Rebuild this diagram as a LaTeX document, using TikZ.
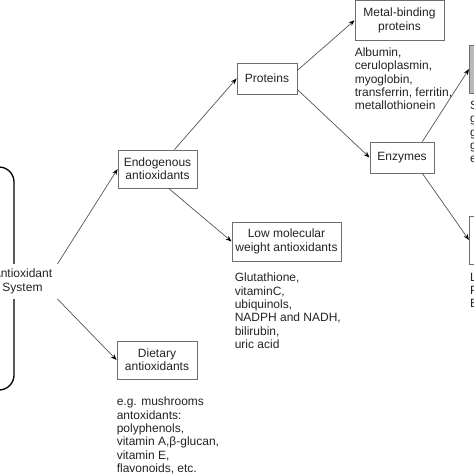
\documentclass[tikz,border=0pt]{standalone}
\usepackage{fontspec}
\setmainfont{Liberation Sans}
\usetikzlibrary{positioning,arrows.meta}
\definecolor{boxgray}{HTML}{6E6E6E}
\definecolor{txtgray}{HTML}{232323}
\definecolor{linegray}{HTML}{555555}
\tikzset{
     arrow/.style={draw=linegray, line width=0.7pt, -{Stealth[length=6pt,width=4.5pt,color=black]}},
     box/.style={draw=boxgray, line width=0.8pt, fill=white, align=center, inner sep=2pt},
     list/.style={align=left, inner sep=0pt, anchor=north west}
     }
\begin{document}
\begin{tikzpicture}[x=1pt, y=-1pt, every node/.style={font=\fontsize{12}{13.3}\selectfont, text=txtgray}]
                    \useasboundingbox (0,0) rectangle (474,474);
                    \clip (0,0) rectangle (474,474);
                    % Bracket round the system
                    \draw[line width=1.3pt, rounded corners=15pt] (-120,167) rectangle (14,390);
                    % Place nodes
                    \node [fill=white, align=center, inner sep=5pt] (sys) at (22.5,281.5) {Antioxidant\\System};
                    \node [box, minimum width=79pt, minimum height=38pt] (endo) at (157.5,169) {Endogenous\\antioxidants};
                    \node [box, minimum width=80pt, minimum height=38pt] (diet) at (157,360) {Dietary\\antioxidants};
                    \node [box, minimum width=60pt, minimum height=31pt] (prot) at (267,78.5) {Proteins};
                    \node [box, minimum width=109pt, minimum height=39pt] (lowmw) at (286.5,241.5) {Low molecular\\weight antioxidants};
                    \node [box, minimum width=89pt, minimum height=40pt] (metal) at (399.5,20.3) {Metal-binding\\proteins};
                    \node [box, minimum width=64pt, minimum height=31pt] (enz) at (402,157.5) {Enzymes};
                    \node [box, fill=gray!55, minimum width=60pt, minimum height=48pt, anchor=west] (enzA) at (469,69) {};
                    \node [box, minimum width=60pt, minimum height=48pt, anchor=west] (enzB) at (469,240) {};
                    % Lists under the boxes
                    \node [below=7pt of metal.south west, list] (metallist) {Albumin,\\ceruloplasmin,\\myoglobin,\\transferrin, ferritin,\\metallothionein};
                    \node [below right=11.5pt and 3pt of lowmw.south west, list] (lowlist) {Glutathione,\\vitaminC,\\ubiquinols,\\NADPH and NADH,\\bilirubin,\\uric acid};
                    \node [below=17.5pt of diet.south west, list] (dietlist) {e.g. mushrooms\\antoxidants:\\polyphenols,\\vitamin A,β-glucan,\\vitamin E,\\flavonoids, etc.};
                    \node [below=7.5pt of enzA.south west, list, xshift=1pt] (enzAlist) {S\\g\\g\\g\\e};
                    \node [below=8.5pt of enzB.south west, list, xshift=1pt] (enzBlist) {L\\P\\B};
                    % Draw edges
                    \draw[arrow] (sys.north east) -- (endo.west);
                    \draw[arrow] (sys.south east) -- (diet.west);
                    \draw[arrow] (endo) -- (prot.west);
                    \draw[arrow] (endo.-60) -- (lowmw.west);
                    \draw[arrow] (prot.15) -- (metal.west);
                    \draw[arrow] (prot.-20) -- (enz.west);
                    \draw[arrow] (enz.38) -- (enzA.west);
                    \draw[arrow] (enz.-38) -- (enzB.west);
                \end{tikzpicture}
\end{document}
